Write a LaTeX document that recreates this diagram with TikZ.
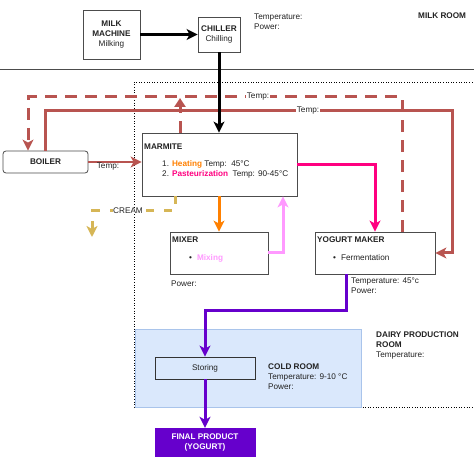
\documentclass[tikz,border=0pt]{standalone}
\usepackage{fontspec}
\setmainfont{Liberation Sans}
\usetikzlibrary{arrows.meta,calc}
\definecolor{rd}{HTML}{B85450}
\definecolor{crm}{HTML}{D6B656}
\definecolor{org}{HTML}{FF8000}
\definecolor{pnk}{HTML}{FF99FF}
\definecolor{mag}{HTML}{FF0080}
\definecolor{prp}{HTML}{6600CC}
\definecolor{txt}{HTML}{222222}
\definecolor{cbfill}{HTML}{DAE8FC}
\definecolor{cbdraw}{HTML}{A9C4EB}
\begin{document}
\begin{tikzpicture}[x=1pt,y=-1pt,
  font=\fontsize{8.2}{10}\selectfont, text=txt,
  box/.style={draw=black!70, line width=0.8pt, fill=white, inner sep=0pt},
  lbl/.style={inner sep=0pt, align=left},
  tip/.style={-{Stealth[length=11pt,width=11pt,inset=3pt]}},
  blackarr/.style={tip, line width=3pt, black},
  redsolid/.style={line width=3pt, rd},
  reddash/.style={line width=3pt, rd, dash pattern=on 12pt off 8pt},
  creamdash/.style={line width=3pt, crm, dash pattern=on 8pt off 10pt},
  colarr/.style={tip, line width=3pt, #1},
  onlbl/.style={fill=white, inner sep=0.5pt, text=txt}]
\useasboundingbox (0,0) rectangle (474,457);

% room separators
\draw[black!70, line width=0.8pt] (0,69) -- (474,69);
\draw[dotted, line width=0.6pt] (480,82) -- (134,82) -- (134,407) -- (480,407);
\node[draw=cbdraw, fill=cbfill, line width=0.8pt, minimum width=226pt, minimum height=78pt, inner sep=0pt] (cold) at (248,368) {};

% boxes
\node[box, minimum width=57pt, minimum height=49pt, align=center] (milk) at (111.5,34.5)
  {\textbf{MILK}\\\textbf{MACHINE}\\Milking};
\node[box, minimum width=42pt, minimum height=35pt, align=center] (chiller) at (219,34.5)
  {\textbf{CHILLER}\\Chilling};
\node[box, rounded corners=3pt, minimum width=85pt, minimum height=22pt] (boiler) at (45.5,162) {\textbf{BOILER}};
\node[box, minimum width=155pt, minimum height=63pt] (marmite) at (219.5,164.5) {};
\node[box, minimum width=98pt, minimum height=42pt] (mixer) at (219,253) {};
\node[box, minimum width=120pt, minimum height=42pt] (yogurt) at (375,253) {};
\node[draw=black!80, fill=cbfill, line width=0.8pt, minimum width=100pt, minimum height=22pt, inner sep=0pt] (storing) at (205,368) {Storing};
\node[fill=prp, draw=prp, minimum width=100pt, minimum height=29pt, inner sep=0pt, align=center, text=white] (final) at (205,442.5)
  {\textbf{FINAL PRODUCT}\\\textbf{(YOGURT)}};

% texts
\node[lbl, anchor=north west] (chtxt) at (254,14) {Temperature:\\Power:};
\node[lbl, anchor=west] (milkroom) at (418,16) {\textbf{MILK ROOM}};
\node[lbl, anchor=west] (mtitle) at (144,147) {\textbf{MARMITE}};
\node[lbl, anchor=north west] (mlist) at (162,160)
  {1. \textcolor{org}{\textbf{Heating}} Temp:\ \ 45°C\\2. \textcolor{mag}{\textbf{Pasteurization}}\ \ Temp: 90-45°C};
\node[lbl, anchor=west] (mxtitle) at (172,240) {\textbf{MIXER}};
\node[lbl, anchor=west] (mxitem) at (189,258) {\textbullet\hspace{5pt}\textcolor{pnk}{\textbf{Mixing}}};
\node[lbl, anchor=west] (mxpow) at (171,284) {Power:};
\node[lbl, anchor=west] (ytitle) at (317,240) {\textbf{YOGURT MAKER}};
\node[lbl, anchor=west] (yitem) at (333,258) {\textbullet\hspace{5pt}Fermentation};
\node[lbl, anchor=north west] (ytxt) at (351,278) {Temperature: 45°c\\Power:};
\node[lbl, anchor=north west] (ctxt) at (268,364) {\textbf{COLD ROOM}\\Temperature: 9-10 °C\\Power:};
\node[lbl, anchor=north west] (dtxt) at (376,332) {\textbf{DAIRY PRODUCTION}\\\textbf{ROOM}\\Temperature:};

% coordinates
\coordinate (dtop) at (28,97);
\coordinate (rtop) at (452,111);

% red loops
\draw[redsolid, tip] (boiler.north) |- (rtop) |- (yogurt.east);
\node[onlbl] (t2) at (308,111) {Temp:};
\draw[reddash, -{Stealth[length=11pt,width=11pt,inset=3pt]}] ([xshift=88pt]yogurt.north west) |- (dtop)
  -- (dtop |- boiler.north);
\node[onlbl] (t1) at (258,97) {Temp:};
\draw[reddash, -{Triangle[length=9pt,width=11pt]}] ([xshift=-39.5pt]marmite.north) -- ([xshift=-39.5pt]marmite.north |- 0,98);
\draw[line width=2pt, rd, tip] (boiler.east) -- (marmite.west |- boiler.east);
\node[lbl, fill=white, inner sep=0.5pt] (t3) at (108,167) {Temp:};

% main flow
\draw[blackarr] (milk) -- (chiller);
\draw[blackarr] (chiller.south) -- (chiller.south |- marmite.north);
\draw[creamdash, -{Stealth[length=11pt,width=11pt,inset=3pt]}] ([xshift=-44.5pt]marmite.south) |- (92,211) -- (92,237);
\node[onlbl] (cr) at (128,211) {CREAM};
\draw[colarr=org] (mixer.north |- marmite.south) -- (mixer.north);
\draw[colarr=pnk] (mixer.east) -| ([xshift=63.5pt]marmite.south);
\draw[colarr=mag] (marmite.east) -| (yogurt.north);
\draw[colarr=prp] ([xshift=-29pt]yogurt.south) -- ++(0,36) -| (storing.north);
\draw[colarr=prp] (storing.south) -- (final.north);
\end{tikzpicture}
\end{document}
